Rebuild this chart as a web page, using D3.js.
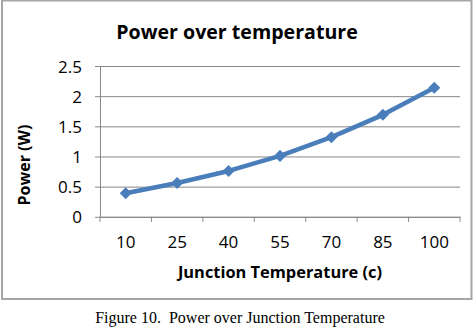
<!DOCTYPE html>
<html>
<head>
<meta charset="utf-8">
<script src="https://cdn.jsdelivr.net/npm/d3@7"></script>
<style>
  html, body { margin: 0; padding: 0; background: #fff; }
  svg { display: block; }
</style>
</head>
<body>
<script>
// ---- data ----
const categories = ["10", "25", "40", "55", "70", "85", "100"];
const powerValues = [0.39, 0.56, 0.76, 1.01, 1.32, 1.69, 2.14];
const yTicks = [0, 0.5, 1, 1.5, 2, 2.5];
const yTickLabels = ["0", "0.5", "1", "1.5", "2", "2.5"];
const chartTitle = "Power over temperature";
const xTitle = "Junction Temperature (c)";
const yTitle = "Power (W)";
const caption = "Figure 10.  Power over Junction Temperature";

// ---- layout ----
const W = 474, H = 327;
const plot = { left: 100, right: 460, top: 66, bottom: 216.8 };
const sans = "'Open Sans', Lato, sans-serif";
const lineColor = "#4a7ebb";
const gridColor = "#878787";

const svg = d3.select("body").append("svg").attr("width", W).attr("height", H);
svg.append("rect").attr("width", W).attr("height", H).attr("fill", "#fff");

// chart frame
svg.append("rect")
  .attr("x", 2).attr("y", 0.5).attr("width", 469.5).attr("height", 298.5)
  .attr("fill", "#fff").attr("stroke", "#a5a5a5").attr("stroke-width", 2);

const x = d3.scaleBand().domain(categories).range([plot.left, plot.right]).padding(0);
const y = d3.scaleLinear().domain([0, 2.5]).range([plot.bottom, plot.top]);

// y axis with gridlines
const yAxis = d3.axisLeft(y).tickValues(yTicks)
  .tickFormat((d, i) => yTickLabels[i])
  .tickSizeInner(-(plot.right - plot.left)).tickSizeOuter(0).tickPadding(0);
const gy = svg.append("g").attr("transform", `translate(${plot.left},0)`).call(yAxis);
gy.select(".domain").attr("stroke", gridColor);
gy.selectAll(".tick line").attr("stroke", gridColor).attr("x1", -5);
gy.selectAll(".tick text")
  .attr("x", -18).attr("dy", "0.36em")
  .attr("font-family", sans).attr("font-size", 17).attr("fill", "#000");

// x axis
const xAxis = d3.axisBottom(x).tickSize(0).tickPadding(0);
const gx = svg.append("g").attr("transform", `translate(0,${plot.bottom})`).call(xAxis);
gx.select(".domain").attr("stroke", gridColor);
gx.selectAll(".tick text")
  .attr("y", 31).attr("dy", 0)
  .attr("font-family", sans).attr("font-size", 17).attr("fill", "#000");
// boundary tick marks
const bounds = categories.map(c => x(c)).concat([x(categories[categories.length - 1]) + x.bandwidth()]);
gx.selectAll("line.bt").data(bounds).enter().append("line")
  .attr("class", "bt")
  .attr("x1", d => d).attr("x2", d => d).attr("y1", 0).attr("y2", 5)
  .attr("stroke", gridColor);

// line
const cx = c => x(c) + x.bandwidth() / 2;
const line = d3.line().x((d, i) => cx(categories[i])).y(d => y(d));
svg.append("path").datum(powerValues)
  .attr("d", line).attr("fill", "none")
  .attr("stroke", lineColor).attr("stroke-width", 4.5).attr("stroke-linejoin", "round");

// diamond markers
const dia = d3.symbol().type(d3.symbolDiamond2).size(92);
svg.selectAll("path.mk").data(powerValues).enter().append("path")
  .attr("class", "mk")
  .attr("d", dia)
  .attr("transform", (d, i) => `translate(${cx(categories[i])},${y(d)})`)
  .attr("fill", lineColor);

// titles
svg.append("text").text(chartTitle)
  .attr("x", 237).attr("y", 39).attr("text-anchor", "middle")
  .attr("font-family", sans).attr("font-weight", "bold").attr("font-size", 19.6).attr("fill", "#000");

svg.append("text").text(xTitle)
  .attr("x", 280).attr("y", 278).attr("text-anchor", "middle")
  .attr("font-family", sans).attr("font-weight", "bold").attr("font-size", 16.4).attr("fill", "#000");

svg.append("text").text(yTitle)
  .attr("transform", "translate(30,165) rotate(-90)").attr("text-anchor", "middle")
  .attr("font-family", sans).attr("font-weight", "bold").attr("font-size", 16).attr("fill", "#000");

// caption
svg.append("text").text(caption)
  .attr("x", 240).attr("y", 322.5).attr("text-anchor", "middle")
  .style("white-space", "pre")
  .attr("font-family", "'Liberation Serif', 'Times New Roman', serif").attr("font-size", 16).attr("fill", "#000");
</script>
</body>
</html>
